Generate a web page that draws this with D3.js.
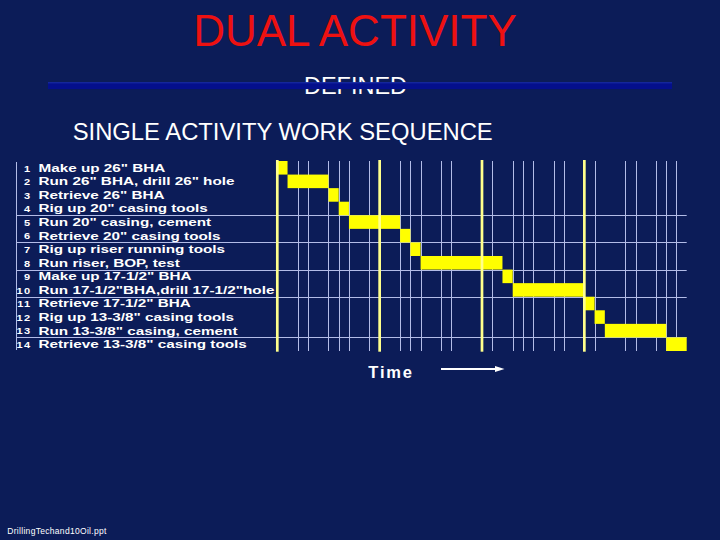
<!DOCTYPE html>
<html>
<head>
<meta charset="utf-8">
<script src="https://cdn.jsdelivr.net/npm/d3@7"></script>
<style>
  html, body { margin: 0; padding: 0; background: #0c1c58; }
  svg { display: block; }
</style>
</head>
<body>
<script>
// ---- data ----
const taskNumbers = [1,2,3,4,5,6,7,8,9,10,11,12,13,14];
const taskLabels = [
  'Make up 26" BHA',
  'Run 26" BHA, drill 26" hole',
  'Retrieve 26" BHA',
  'Rig up 20" casing tools',
  'Run 20" casing, cement',
  'Retrieve 20" casing tools',
  'Rig up riser running tools',
  'Run riser, BOP, test',
  'Make up 17-1/2" BHA',
  'Run 17-1/2"BHA,drill 17-1/2"hole',
  'Retrieve 17-1/2" BHA',
  'Rig up 13-3/8" casing tools',
  'Run 13-3/8" casing, cement',
  'Retrieve 13-3/8" casing tools'
];
const taskStarts    = [0,1,5,6,7,12,13,14,22,23,30,31,32,38];
const taskDurations = [1,4,1,1,5,1,1,8,1,7,1,1,6,2];
const minorGridUnits = [2,3,5,6,7,9,12,13,14,16,17,21,23,24,25,27,28,31,34,35,37,38,39];
const majorGridUnits = [0,10,20,30];
const rowBreaksAfter = [4,6,8,10,13];
const timeDomain = [0, 40];

const W = 720, H = 540;
const svg = d3.select("body").append("svg").attr("width", W).attr("height", H);
svg.append("rect").attr("width", W).attr("height", H).attr("fill", "#0c1c58");

const FONT = "'Liberation Sans', Arial, Helvetica, sans-serif";

// ---- titles ----
svg.append("text").attr("x", 355).attr("y", 45.5).attr("text-anchor", "middle")
  .attr("font-family", FONT).attr("font-size", 44).attr("fill", "#ee1111")
  .text("DUAL ACTIVITY");

svg.append("text").attr("x", 355.5).attr("y", 94).attr("text-anchor", "middle")
  .attr("font-family", FONT).attr("font-size", 23.5).attr("fill", "#ffffff")
  .text("DEFINED");

svg.append("rect").attr("x", 48).attr("y", 82.3).attr("width", 624).attr("height", 6.8)
  .attr("fill", "#040f8c");
svg.append("rect").attr("x", 48).attr("y", 82.3).attr("width", 624).attr("height", 1)
  .attr("fill", "#1c2fa8");

svg.append("text").attr("x", 72.7).attr("y", 140)
  .attr("font-family", FONT).attr("font-size", 23.8).attr("fill", "#ffffff")
  .text("SINGLE ACTIVITY WORK SEQUENCE");

// ---- scales ----
const x = d3.scaleLinear().domain(timeDomain).range([277.3, 686.7]);
const y = d3.scaleBand().domain(d3.range(taskLabels.length)).range([161, 351]).padding(0);

const chart = svg.append("g");

// horizontal row separators
chart.selectAll("line.hsep").data(rowBreaksAfter).join("line")
  .attr("class", "hsep")
  .attr("x1", 16).attr("x2", x(timeDomain[1]))
  .attr("y1", d => Math.round(y(d)) + 0.5).attr("y2", d => Math.round(y(d)) + 0.5)
  .attr("stroke", "#b3bce8").attr("stroke-width", 1);

// left border line
chart.append("line").attr("x1", 16.5).attr("x2", 16.5).attr("y1", 162).attr("y2", 350)
  .attr("stroke", "#b3bce8").attr("stroke-width", 1);

// minor vertical gridlines
chart.selectAll("line.vminor").data(minorGridUnits).join("line")
  .attr("class", "vminor")
  .attr("x1", d => Math.round(x(d)) + 0.5).attr("x2", d => Math.round(x(d)) + 0.5)
  .attr("y1", 161).attr("y2", 351)
  .attr("stroke", "#b3bce8").attr("stroke-width", 1);

// bars
chart.selectAll("rect.bar").data(taskStarts).join("rect")
  .attr("class", "bar")
  .attr("x", d => x(d))
  .attr("y", (d, i) => y(i))
  .attr("width", (d, i) => x(d + taskDurations[i]) - x(d))
  .attr("height", y.bandwidth())
  .attr("fill", "#ffff00");

// major vertical lines
chart.selectAll("line.vmajor").data(majorGridUnits).join("line")
  .attr("class", "vmajor")
  .attr("x1", d => x(d)).attr("x2", d => x(d))
  .attr("y1", 160).attr("y2", 351.7)
  .attr("stroke", "#ffff8c").attr("stroke-width", 2.7);

// labels (wide bold lettering)
const labG = chart.append("g").attr("transform", "translate(38.5,0) scale(1.39,1)");
labG.selectAll("text").data(taskLabels).join("text")
  .attr("x", 0)
  .attr("y", (d, i) => y(i) + y.bandwidth() / 2 + 4)
  .attr("font-family", FONT).attr("font-weight", "bold").attr("font-size", 11)
  .attr("fill", "#ffffff")
  .text(d => d);

const numG = chart.append("g").attr("transform", "translate(31.5,0) scale(1.3,1)");
numG.selectAll("text").data(taskNumbers).join("text")
  .attr("x", 0)
  .attr("y", (d, i) => y(i) + y.bandwidth() / 2 + 3.8)
  .attr("text-anchor", "end")
  .attr("font-family", FONT).attr("font-weight", "bold").attr("font-size", 8.5)
  .attr("letter-spacing", 1)
  .attr("fill", "#ffffff")
  .text(d => d);

// ---- Time arrow ----
svg.append("text").attr("x", 368.3).attr("y", 378)
  .attr("font-family", FONT).attr("font-weight", "bold").attr("font-size", 16.5)
  .attr("letter-spacing", 1.8)
  .attr("fill", "#ffffff").text("Time");

svg.append("line").attr("x1", 441).attr("x2", 497).attr("y1", 369).attr("y2", 369)
  .attr("stroke", "#ffffff").attr("stroke-width", 2);
svg.append("path").attr("d", "M495,366 L504.5,369 L495,372 Z").attr("fill", "#ffffff");

// ---- footer ----
svg.append("text").attr("x", 7.3).attr("y", 534)
  .attr("font-family", FONT).attr("font-size", 8.5).attr("letter-spacing", 0.3)
  .attr("fill", "#ffffff").text("DrillingTechand10Oil.ppt");
</script>
</body>
</html>
